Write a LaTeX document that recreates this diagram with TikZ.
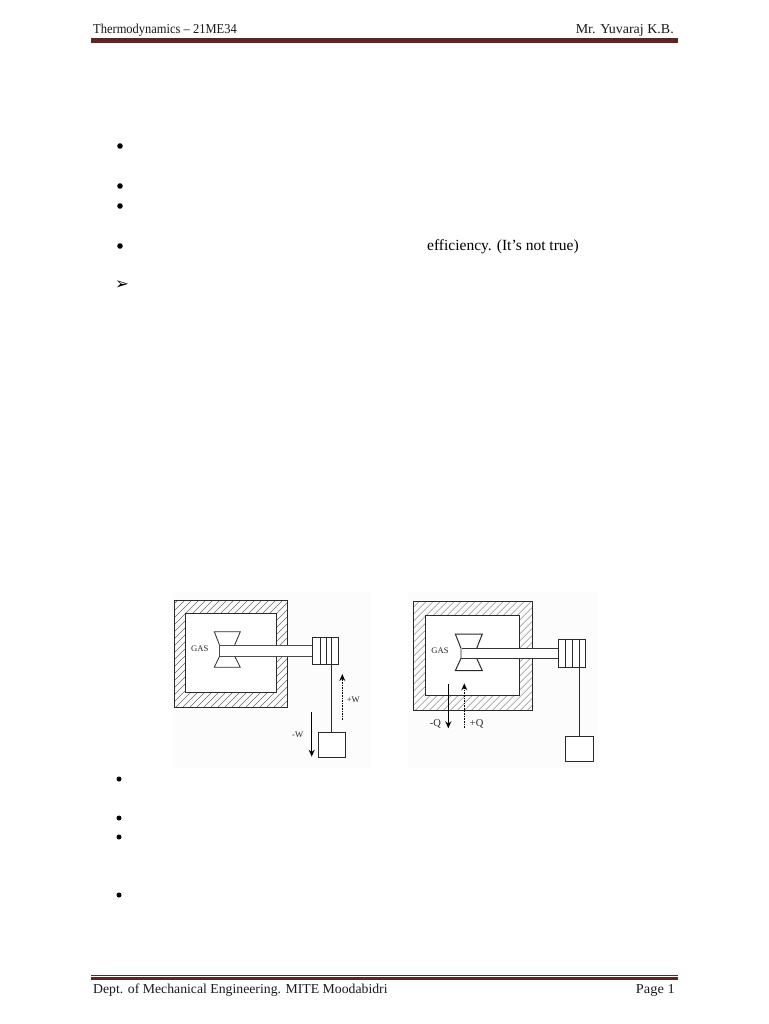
\documentclass[tikz,border=0pt]{standalone}
\usepackage{fontspec}
\usepackage{graphicx}
\setmainfont{Liberation Serif}
\newfontfamily\dejavu{DejaVu Sans}
\definecolor{rulered}{HTML}{622423}
\definecolor{hatchgray}{HTML}{6A6A6A}
\definecolor{linegray}{HTML}{2A2A2A}
\usetikzlibrary{arrows.meta}
\tikzset{
  plainbox/.style={draw=linegray,line width=0.8pt,fill=white,inner sep=0pt,outer sep=0pt},
  wallbox/.style={draw=linegray,line width=0.9pt},
  rodline/.style={draw=linegray,line width=0.8pt,fill=white},
  rope/.style={draw=linegray,line width=0.9pt},
  solidarrow/.style={draw=black,line width=1.3pt,-{Stealth[length=7pt,width=6pt]}},
  dasharrow/.style={draw=black,line width=1.3pt,dash pattern=on 1.6pt off 1pt,-{Stealth[length=7pt,width=6pt]}},
  fig/.style={font=\fontsize{8.6}{9}\selectfont,inner sep=0pt,text=black!85},
  figq/.style={font=\fontsize{10.5}{11}\selectfont,inner sep=0pt,text=black!85},
  bulletdot/.style={circle,fill=black,minimum size=5.6pt,inner sep=0pt},
  headtext/.style={font=\fontsize{13.6}{15}\selectfont,inner sep=0pt,text=black!90},
  bodytext/.style={font=\fontsize{15.5}{17}\selectfont,inner sep=0pt,text=black}
}
\begin{document}
\begin{tikzpicture}[x=1pt,y=-1pt]
\useasboundingbox (0,0) rectangle (768,1024);
\fill[white] (0,0) rectangle (768,1024);
% header / footer
\node[headtext,anchor=base west] (headl) at (93,33.3) {\scalebox{0.918}[1]{Thermodynamics – 21ME34}};
\node[headtext,anchor=base east] (headr) at (674,33.3) {\scalebox{1.03}[1]{Mr. Yuvaraj K.B.}};
\fill[rulered] (91,38) rectangle (678,42.8);
\fill[rulered] (91,974.6) rectangle (678,976);
\fill[rulered] (91,976.9) rectangle (678,980.4);
\node[headtext,anchor=base west] (footl) at (93,993.5) {\scalebox{1.011}[1]{Dept. of Mechanical Engineering. MITE Moodabidri}};
\node[headtext,anchor=base east] (footr) at (675,993.5) {\scalebox{1.06}[1]{Page 1}};
% bullets
\foreach \n/\yy in {a/146,b/186,c/206,d/246}
  \node[bulletdot] (bul\n) at (120,\yy) {};
\foreach \n/\yy in {e/779,f/818,g/837,h/895}
  \node[bulletdot,minimum size=5pt] (bul\n) at (119,\yy) {};
\node[inner sep=0pt,font=\dejavu\fontsize{16.5}{18}\selectfont] (arrowbul) at (122,285) {➢};
\node[bodytext,anchor=base west] (eff) at (427,251) {efficiency. (It’s not true)};
% LEFT FIGURE
\fill[black!1.2] (172,592) rectangle (370,768);
\begin{scope}
  \clip (174,600) rectangle (287,707);
  \foreach \k in {0,7,...,230}
    \draw[hatchgray,line width=0.5pt] (174+\k-110,707) -- ++(110,-110);
\end{scope}
\draw[wallbox] (174,600) rectangle (287,707);
\draw[wallbox,fill=white] (185,613) rectangle (276,692);
\draw[rodline] (219.5,645) -- (214.3,631.7) -- (240.3,631.7) -- (234.7,645)
  -- (234.7,656.3) -- (240.3,667.3) -- (214.3,667.3) -- (219.5,656.3) -- cycle;
\fill[white] (219.3,645.3) rectangle (312,656.3);
\draw[rodline,draw=black!70] (312,645.3) -- (219.3,645.3) -- (219.3,656.3) -- (312,656.3);
\node[fig] (gasl) at (199.7,649) {GAS};
\node[plainbox,anchor=north west,minimum width=26pt,minimum height=27.3pt] (druml) at (312.3,637) {};
\foreach \xx in {320.8,326,331} \draw[linegray,line width=0.7pt] (\xx,637) -- (\xx,664.3);
\node[plainbox,anchor=north west,minimum width=27.4pt,minimum height=25pt] (blockl) at (318.3,732.7) {};
\draw[rope] (blockl.north -| 331,0) -- (druml.south -| 331,0);
\coordinate (wus) at (342.3,720); \coordinate (wue) at (342.3,674);
\coordinate (wds) at (311.7,711.7); \coordinate (wde) at (311.7,756.7);
\draw[dasharrow] (wus) -- (wue);
\draw[solidarrow] (wds) -- (wde);
\node[fig] (plusw) at (353.3,700) {+W};
\node[fig] (minusw) at (297.7,734.3) {-W};
% RIGHT FIGURE
\fill[black!1.2] (408,592) rectangle (598,768);
\begin{scope}
  \clip (413.3,601) rectangle (532.7,710.3);
  \foreach \k in {0,7,...,240}
    \draw[hatchgray,line width=0.5pt] (413.3+\k-110,710.3) -- ++(110,-110);
\end{scope}
\draw[wallbox] (413.3,601) rectangle (532.7,710.3);
\draw[wallbox,fill=white] (425,615) rectangle (519,695.7);
\draw[rodline,line width=1pt] (461,648.3) .. controls (458,642) .. (455.3,634) -- (482.3,634)
  .. controls (480,642) .. (476.7,648.3) -- (476.7,658.3)
  .. controls (480,664) .. (482.3,670.7) -- (455.3,670.7)
  .. controls (458,664) .. (461,658.3) -- cycle;
\fill[white] (461,648.3) rectangle (558,658.3);
\draw[rodline,line width=1pt,draw=black!80] (558,648.3) -- (461,648.3);
\draw[rodline,line width=1pt,draw=black!80] (461,658.3) -- (558,658.3);
\draw[black!30,line width=0.6pt] (461,648.3) -- (461,658.3);
\node[fig] (gasr) at (440,650.7) {GAS};
\node[plainbox,anchor=north west,minimum width=27.3pt,minimum height=27.7pt] (drumr) at (558,639.3) {};
\foreach \xx in {565.7,572.3,579} \draw[linegray,line width=0.7pt] (\xx,639.3) -- (\xx,667);
\node[plainbox,anchor=north west,minimum width=28.3pt,minimum height=25pt] (blockr) at (565,736) {};
\draw[rope] (blockr.north -| 579,0) -- (drumr.south -| 579,0);
\coordinate (qds) at (448.3,684); \coordinate (qde) at (448.3,728.3);
\coordinate (qus) at (464.3,727.7); \coordinate (que) at (464.3,683.3);
\draw[solidarrow] (qds) -- (qde);
\draw[dasharrow] (qus) -- (que);
\node[figq] (minusq) at (435.3,723.7) {-Q};
\node[figq] (plusq) at (476.7,723.7) {+Q};
\end{tikzpicture}
\end{document}
